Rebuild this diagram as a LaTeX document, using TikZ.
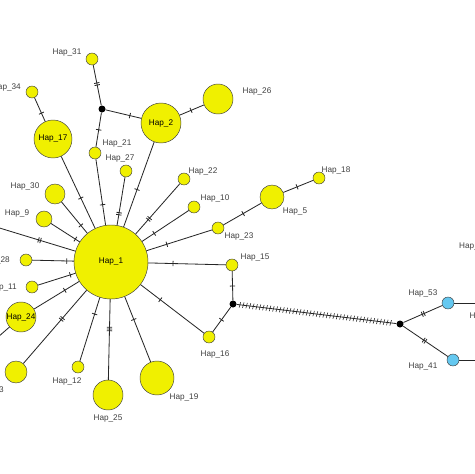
\documentclass[tikz,border=0pt]{standalone}
\usepackage{fontspec}
\setmainfont{Liberation Sans}
\usepackage{tikz}
\usetikzlibrary{decorations.markings}
\definecolor{hapyellow}{RGB}{240,240,0}
\definecolor{hapcyan}{RGB}{100,200,240}

\begin{document}
\begin{tikzpicture}[
x=0.03cm, y=-0.03cm,
hap/.style={
circle,
draw=black!75,
line width=0.4pt,
fill=hapyellow,
inner sep=0pt,
minimum size=#1*0.6mm,
font=\fontsize{7}{8}\selectfont
},
hapc/.style={hap=#1, fill=hapcyan},
mv/.style={circle, fill=black, inner sep=0pt, minimum size=2.1mm},
lbl/.style={font=\fontsize{7}{8}\selectfont, text=black!75, inner sep=0pt},
link/.style={draw=black!85, line width=0.7pt},
tk/.style={postaction={decorate}, decoration={markings,
mark=at position #1 with {\draw[link] (0,-2.3pt) -- (0,2.3pt);}}},
tkk/.style={postaction={decorate}, decoration={markings,
mark=at position #1 with {\draw[link] (-0.9pt,-2.3pt) -- (-0.9pt,2.3pt) (0.9pt,-2.3pt) -- (0.9pt,2.3pt);}}},
tkkk/.style={postaction={decorate}, decoration={markings,
mark=at position #1 with {\draw[link] (-1.5pt,-2.3pt) -- (-1.5pt,2.3pt) (0,-2.3pt) -- (0,2.3pt) (1.5pt,-2.3pt) -- (1.5pt,2.3pt);}}},
longtk/.style={postaction={decorate}, decoration={markings,
mark=between positions 0.02 and 0.98 step 0.021 with {\draw[link, line width=0.5pt] (-0.4pt,-2.4pt) -- (0.4pt,2.4pt);}}}
]

\useasboundingbox[fill=white] (0,0) rectangle (474,474);

\node[hap=37] (h1) at (111,262) {Hap\_1};
\node[hap=20] (h2) at (161,123) {Hap\_2};
\node[hap=15] (h26) at (218,99) {};
\node[mv] (d1) at (102,109) {};
\node[hap=6] (h31) at (92,59) {};
\node[hap=6] (h34) at (32,92) {};
\node[hap=19] (h17) at (53,139) {Hap\_17};
\node[hap=6] (h21) at (95,153) {};
\node[hap=6] (h27) at (126,171) {};
\node[hap=6] (h22) at (184,179) {};
\node[hap=10] (h30) at (55,194) {};
\node[hap=6] (h10) at (194,207) {};
\node[hap=12] (h5) at (272,197) {};
\node[hap=6] (h18) at (319,178) {};
\node[hap=6] (h23) at (218,228) {};
\node[hap=6] (h15) at (232,265) {};
\node[mv] (d2) at (233,304) {};
\node[hap=6] (h16) at (209,337) {};
\node[mv] (d3) at (400,324) {};
\node[hapc=6] (h53) at (448,303) {};
\node[hapc=6] (h41) at (453,360) {};
\node[hap=8] (h9) at (44,219) {};
\node[hap=6] (h28) at (26,260) {};
\node[hap=6] (h11) at (32,287) {};
\node[hap=15] (h24) at (21,317) {Hap\_24};
\node[hap=11] (h13) at (16,372) {};
\node[hap=6] (h12) at (78,367) {};
\node[hap=15] (h25) at (108,395) {};
\node[hap=17] (h19) at (157,378) {};

\coordinate (w1) at (-30,219);
\coordinate (w2) at (-10,344);
\coordinate (e1) at (500,303);
\coordinate (e2) at (500,360);

\node[lbl] (l31) at (67,52) {Hap\_31};
\node[lbl, anchor=east] (l34) at (21,87) {Hap\_34};
\node[lbl] (l26) at (257,91) {Hap\_26};
\node[lbl] (l21) at (117,143) {Hap\_21};
\node[lbl] (l27) at (120,158) {Hap\_27};
\node[lbl] (l22) at (203,171) {Hap\_22};
\node[lbl] (l30) at (25,186) {Hap\_30};
\node[lbl] (l10) at (215,198) {Hap\_10};
\node[lbl] (l18) at (336,170) {Hap\_18};
\node[lbl] (l5) at (295,212) {Hap\_5};
\node[lbl] (l23) at (239,236) {Hap\_23};
\node[lbl] (l15) at (255,258) {Hap\_15};
\node[lbl] (l16) at (215,354) {Hap\_16};
\node[lbl] (l53) at (423,293) {Hap\_53};
\node[lbl] (l41) at (423,367) {Hap\_41};
\node[lbl] (l9) at (17,213) {Hap\_9};
\node[lbl, anchor=east] (l28) at (10,260) {Hap\_28};
\node[lbl, anchor=east] (l11) at (17,288) {Hap\_11};
\node[lbl, anchor=east] (l13) at (4,390) {Hap\_13};
\node[lbl] (l12) at (67,381) {Hap\_12};
\node[lbl] (l25) at (108,418) {Hap\_25};
\node[lbl] (l19) at (184,397) {Hap\_19};
\node[lbl, anchor=west] (lr1) at (459,247) {Hap\_};
\node[lbl, anchor=west] (lr2) at (469.5,317) {Hap\_};

\draw[link, tkk=0.47] (h31) -- (d1);
\draw[link, tk=0.68] (d1) -- (h2);
\draw[link, tk=0.5] (d1) -- (h21);
\draw[link, tk=0.47] (h2) -- (h26);
\draw[link, tk=0.65] (h34) -- (h17);
\draw[link, tk=0.58] (h17) -- (h1);
\draw[link, tk=0.69] (h21) -- (h1);
\draw[link, tkk=0.76] (h27) -- (h1);
\draw[link, tk=0.56] (h2) -- (h1);
\draw[link, tkk=0.70] (h22) -- (h1);
\draw[link, tk=0.74] (h10) -- (h1);
\draw[link, tk=0.69] (h23) -- (h1);
\draw[link, tk=0.52] (h23) -- (h5);
\draw[link, tk=0.46] (h5) -- (h18);
\draw[link, tk=0.68] (h15) -- (h1);
\draw[link, tk=0.51] (h15) -- (d2);
\draw[link, tk=0.49] (h16) -- (d2);
\draw[link, tk=0.69] (h16) -- (h1);
\draw[link, longtk] (d2) -- (d3);
\draw[link, tkk=0.51] (d3) -- (h53);
\draw[link, tkk=0.48] (d3) -- (h41);
\draw[link] (h53) -- (e1);
\draw[link] (h41) -- (e2);
\draw[link, tk=0.75] (h30) -- (h1);
\draw[link, tk=0.85] (h9) -- (h1);
\draw[link, tkk=0.66] (w1) -- (h1);
\draw[link, tk=0.83] (h28) -- (h1);
\draw[link, tk=0.86] (h11) -- (h1);
\draw[link, tk=0.68] (h24) -- (h1);
\draw[link] (h24) -- (w2);
\draw[link, tkk=0.61] (h13) -- (h1);
\draw[link, tk=0.74] (h12) -- (h1);
\draw[link, tkkk=0.63] (h25) -- (h1);
\draw[link, tk=0.65] (h19) -- (h1);

\end{tikzpicture}
\end{document}
